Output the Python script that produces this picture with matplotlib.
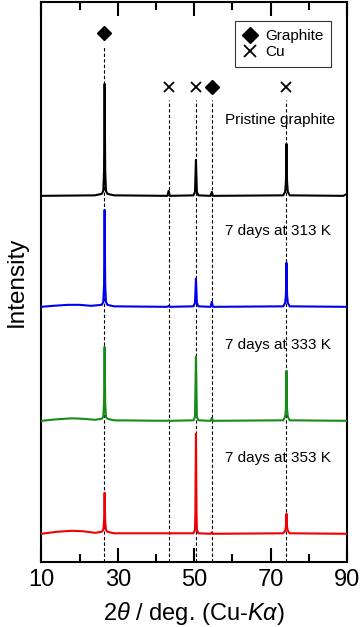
import matplotlib
matplotlib.use("Agg")
import matplotlib.pyplot as plt
from matplotlib.lines import Line2D

plt.rcParams['font.family'] = ['Liberation Sans', 'DejaVu Sans']
plt.rcParams['mathtext.fontset'] = 'custom'
plt.rcParams['mathtext.rm'] = 'Liberation Sans'
plt.rcParams['mathtext.it'] = 'Liberation Sans:italic'

# reflection positions (2theta, deg)
graphite_pos = [26.5, 54.6]
cu_pos = [43.3, 50.4, 74.1]

# patterns (intensity above each baseline, arb. units)
black_x = [10, 24, 25.8, 26.2, 26.4, 26.55, 26.7, 26.9, 27.3, 29, 43.0, 43.3, 43.6,
           49.8, 50.2, 50.45, 50.7, 51.1, 54.3, 54.6, 54.9, 73.3, 73.8, 74.0, 74.15,
           74.3, 74.5, 75.0, 89, 90]
black_y = [0, 0.5, 2, 5, 25, 112, 25, 5, 2, 0.5, 0, 5, 0,
           0.5, 4, 36, 4, 0.5, 0, 4, 0, 0.5, 4, 14, 52,
           14, 4, 0.5, 0, 2]

blue_x = [10, 13, 17, 20, 23, 25.8, 26.2, 26.4, 26.55, 26.7, 26.9, 27.3, 29, 43.0,
          43.3, 43.6, 49.8, 50.2, 50.45, 50.7, 51.1, 54.3, 54.6, 54.9, 73.3, 73.8,
          74.0, 74.15, 74.3, 74.5, 75.0, 90]
blue_y = [0, 1, 2, 2, 1, 2, 5, 22, 97, 22, 5, 2, 0.5, 0,
          1, 0, 0.5, 4, 28, 4, 0.5, 0, 5, 0, 0.5, 4,
          12, 44, 12, 4, 0.5, 0]

green_x = [10, 14, 18, 21, 24, 25.8, 26.2, 26.4, 26.55, 26.7, 26.9, 27.3, 29, 43.0,
           43.3, 43.6, 49.8, 50.2, 50.45, 50.7, 51.1, 54.3, 54.6, 54.9, 73.3, 73.8,
           74.0, 74.15, 74.3, 74.5, 75.0, 90]
green_y = [0, 1.5, 2.5, 2, 1, 2, 4, 18, 74, 18, 4, 2, 0.5, 0,
           0.5, 0, 0.5, 4, 64, 4, 0.5, 0, 3, 0, 0.5, 4,
           12, 50, 12, 4, 0.5, 0]

red_x = [10, 14, 18, 21, 24, 25.8, 26.2, 26.4, 26.55, 26.7, 26.9, 27.3, 29, 49.8,
         50.2, 50.3, 50.45, 50.6, 50.7, 51.1, 54.3, 54.6, 54.9, 73.3, 73.8, 74.0,
         74.15, 74.3, 74.5, 75.0, 90]
red_y = [0, 2, 3, 2.5, 1, 2, 4, 12, 41, 12, 4, 2, 0.5, 0.5,
         4, 20, 100, 20, 4, 0.5, 0, 1.5, 0, 0.5, 3, 7,
         20, 7, 3, 0.5, 0]

offsets = [366, 255, 141, 28]
labels = ["Pristine graphite", "7 days at 313 K", "7 days at 333 K", "7 days at 353 K"]
colors = ["black", "#0000f0", "#188a18", "#f00000"]

fig = plt.figure(figsize=(3.6, 6.27), dpi=100)
ax = fig.add_axes([0.115, 0.104, 0.849, 0.893])

series = [(black_x, black_y), (blue_x, blue_y), (green_x, green_y), (red_x, red_y)]
for (xs, ys), off, c, lab in zip(series, offsets, colors, labels):
    ax.plot(xs, [v + off for v in ys], color=c, lw=1.5, zorder=3)
    ax.text(58.0, off + 76, lab, fontsize=11, va='center', ha='left', zorder=4)

# dashed guide lines and phase markers
ax.vlines(graphite_pos[0], 0, 515, colors='black', linestyles=(0, (3, 2)), lw=0.8, zorder=2)
for p in [graphite_pos[1]] + cu_pos:
    ax.vlines(p, 0, 462, colors='black', linestyles=(0, (3, 2)), lw=0.8, zorder=2)
ax.plot(graphite_pos[0], 529, 'D', color='black', ms=7.5)
ax.plot(graphite_pos[1], 475, 'D', color='black', ms=7.5)
ax.plot(cu_pos, [475] * len(cu_pos), 'x', color='black', ms=7.5, mew=1.3)

handles = [Line2D([], [], ls='none', marker='D', color='black', ms=8),
           Line2D([], [], ls='none', marker='x', color='black', ms=8, mew=1.3)]
leg = ax.legend(handles, ["Graphite", "Cu"], loc='upper right',
                bbox_to_anchor=(0.948, 0.965), fontsize=11, frameon=True,
                fancybox=False, handlelength=1.0, handletextpad=0.5,
                borderpad=0.5, labelspacing=0.15, borderaxespad=0)
leg.get_frame().set_edgecolor('black')
leg.get_frame().set_linewidth(0.8)

ax.set_xlim(10, 90)
ax.set_ylim(0, 560)
ax.set_xticks([10, 30, 50, 70, 90])
ax.set_xticks([20, 40, 60, 80], minor=True)
ax.set_yticks([])
ax.tick_params(axis='x', which='both', direction='in', top=True, width=1.5,
               labelsize=17, pad=5)
ax.tick_params(axis='x', which='major', length=10)
ax.tick_params(axis='x', which='minor', length=5.5)
for s in ax.spines.values():
    s.set_linewidth(1.5)

ax.set_xlabel(r"2$\theta$ / deg. (Cu-$K\alpha$)", fontsize=17, labelpad=7)
ax.set_ylabel("Intensity", fontsize=17.5, labelpad=10)

fig.savefig("out.png", dpi=100)
